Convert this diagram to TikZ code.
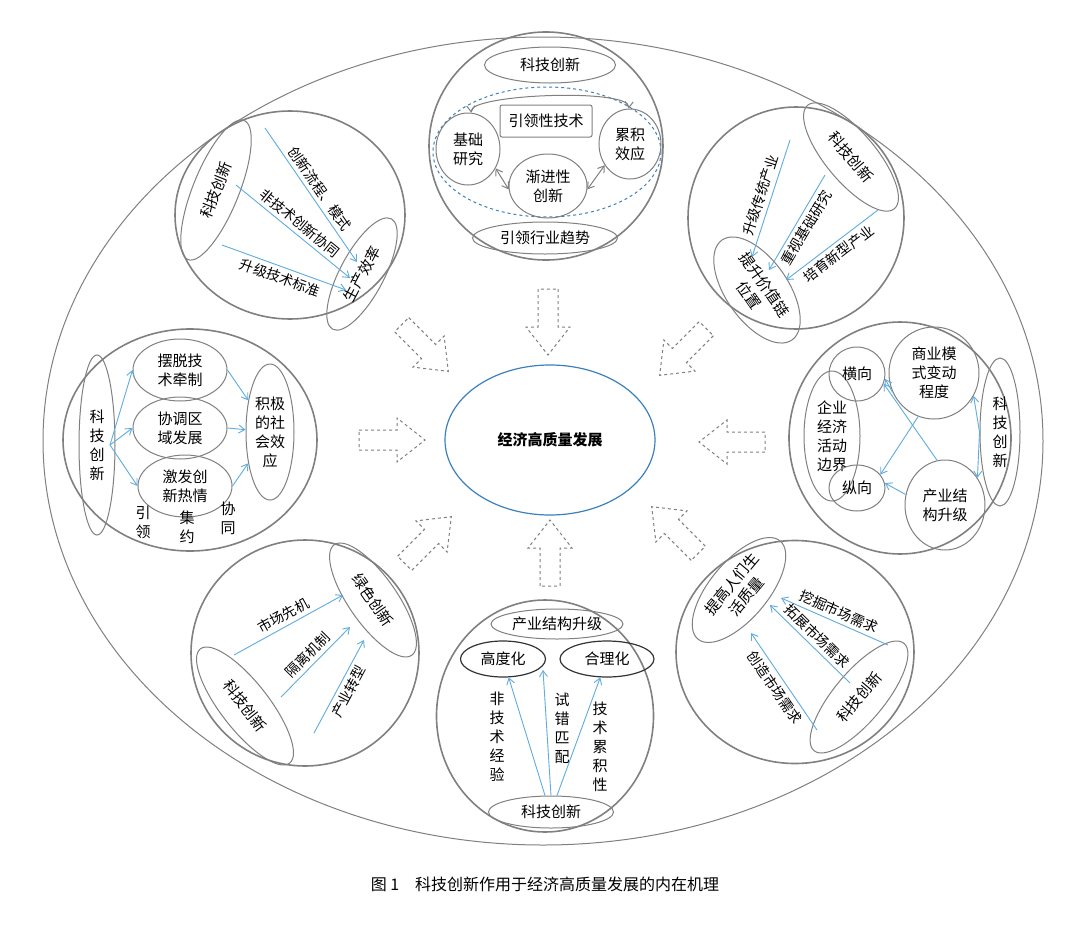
\documentclass[tikz,border=0pt]{standalone}
\usepackage{fontspec}
\setmainfont{Noto Sans CJK SC}
\usetikzlibrary{shapes.geometric,arrows.meta}
\definecolor{lgray}{RGB}{128,128,128}
\definecolor{ablue}{RGB}{95,172,222}
\definecolor{cblue}{RGB}{60,128,188}
\tikzset{
  ring/.style={draw=lgray, line width=1.6pt, ellipse, inner sep=0pt},
  ell/.style={draw=lgray, line width=1pt, ellipse, inner sep=0pt, align=center},
  barr/.style={draw=ablue, line width=0.9pt, -{Straight Barb[length=6pt,width=8pt]}},
  garr/.style={draw=lgray, line width=1pt, {Straight Barb[length=6pt,width=8pt]}-{Straight Barb[length=6pt,width=8pt]}},
  fatarrow/.pic={\draw[lgray, dashed, line width=1pt] (-33,-10) -- (5,-10) -- (5,-22) -- (33,0) -- (5,22) -- (5,10) -- (-33,10) -- cycle;},
  lab/.style={inner sep=1pt, align=center},
  slab/.style={inner sep=4pt, sloped, font=\fontsize{14}{17}\selectfont}
}
\begin{document}
\begin{tikzpicture}[x=1pt, y=-1pt, font=\fontsize{15}{19}\selectfont]
\useasboundingbox[fill=white] (0,0) rectangle (1080,935);
% outer frame and center
\node[draw=lgray, line width=1pt, ellipse, minimum width=1000pt, minimum height=808pt] (O) at (543,441) {};
\node[draw=cblue, line width=1.2pt, ellipse, minimum width=210pt, minimum height=150pt, font=\fontsize{15}{19}\selectfont\bfseries] (C) at (550,440) {经济高质量发展};
\foreach \x/\y/\r [count=\i] in {548/322/-90, 425/348/-45, 392/440/0, 428/540/45, 550/553/90, 675/530/135, 732/442/180, 683/352/-135}
  \pic[rotate=\r] (fa\i) at (\x,\y) {fatarrow};

% top
\node[ring, minimum width=234pt, minimum height=228pt] (T) at (546,146) {};
\node[ell, minimum width=131pt, minimum height=36pt] (Tsci) at (550,65) {科技创新};
\node[draw=cblue, dashed, line width=1pt, ellipse, minimum width=228pt, minimum height=130pt] (Tloop) at (547,152) {};
\node[draw=lgray, rounded corners=2pt, line width=1pt, minimum width=92pt, minimum height=32pt] (Tlead) at (546,121) {引领性技术};
\node[ell, minimum width=64pt, minimum height=72pt] (Tbase) at (468,149) {基础\\研究};
\node[ell, minimum width=62pt, minimum height=70pt] (Tacc) at (630,144) {累积\\效应};
\node[ell, minimum width=78pt, minimum height=64pt] (Tinc) at (548,186) {渐进性\\创新};
\node[ell, minimum width=145pt, minimum height=32pt] (Ttrend) at (545,238) {引领行业趋势};
\draw[garr] (Tbase.85) .. controls (470,94) and (630,88) .. (Tacc.92);
\draw[garr] (Tbase.-35) -- (Tinc.185);
\draw[garr] (Tinc.-5) -- (Tacc.-140);

% top left
\node[ring, minimum width=230pt, minimum height=208pt] (TL) at (290,215) {};
\node[ell, rotate=68, minimum width=150pt, minimum height=46pt] (TLsci) at (216,190) {科技创新};
\node[ell, rotate=62, minimum width=125pt, minimum height=44pt] (TLeff) at (362,274) {生产效率};
\coordinate (TLa) at (265,128);
\coordinate (TLb) at (236,185);
\coordinate (TLc) at (222,245);
\coordinate (TLx) at (357,262);
\coordinate (TLy) at (350,278);
\coordinate (TLz) at (346,290);
\draw[barr] (TLa) -- node[slab, above] {创新流程、模式} (TLx);
\draw[barr] (TLb) -- node[slab, above] {非技术创新协同} (TLy);
\draw[barr] (TLc) -- node[slab, below] {升级技术标准} (TLz);

% top right
\node[ring, minimum width=216pt, minimum height=222pt] (TR) at (796,218) {};
\node[ell, rotate=-50, minimum width=135pt, minimum height=50pt] (TRsci) at (851,157) {科技创新};
\node[ell, rotate=-55, minimum width=122pt, minimum height=62pt] (TRval) at (757,290) {提升价值链\\位置};
\coordinate (TRa) at (790,140);
\coordinate (TRb) at (825,175);
\coordinate (TRc) at (878,210);
\coordinate (TRx) at (752,257);
\coordinate (TRy) at (769,270);
\coordinate (TRz) at (786,280);
\draw[barr] (TRa) -- node[slab, above] {升级传统产业} (TRx);
\draw[barr] (TRb) -- node[slab, below] {重视基础研究} (TRy);
\draw[barr] (TRc) -- node[slab, below] {培育新型产业} (TRz);

% left
\node[ring, minimum width=254pt, minimum height=222pt] (L) at (190,440) {};
\node[ell, minimum width=36pt, minimum height=180pt] (Lsci) at (97,445) {科\\技\\创\\新};
\node[ell, minimum width=94pt, minimum height=62pt] (L1) at (180,370) {摆脱技\\术牵制};
\node[ell, minimum width=94pt, minimum height=62pt] (L2) at (180,428) {协调区\\域发展};
\node[ell, minimum width=94pt, minimum height=62pt] (L3) at (185,486) {激发创\\新热情};
\node[ell, minimum width=48pt, minimum height=136pt] (Lpos) at (270,432) {积极\\的社\\会效\\应};
\coordinate (Ls) at (110,445);
\foreach \n in {L1,L2,L3} {
  \draw[barr] (Ls) -- (\n.west);
  \draw[barr] (\n.east) -- (Lpos);
}
\node[lab] (Lg1) at (143,522) {引\\领};
\node[lab] (Lg2) at (187,527) {集\\约};
\node[lab] (Lg3) at (228,518) {协\\同};

% right
\node[ring, minimum width=222pt, minimum height=232pt] (R) at (900,438) {};
\node[ell, minimum width=56pt, minimum height=130pt] (Rbd) at (832,436) {企业\\经济\\活动\\边界};
\node[ell, minimum width=56pt, minimum height=54pt] (Rh) at (857,374) {横向};
\node[ell, minimum width=90pt, minimum height=92pt] (Rb) at (934,373) {商业模\\式变动\\程度};
\node[ell, minimum width=56pt, minimum height=46pt] (Rv) at (857,488) {纵向};
\node[ell, minimum width=80pt, minimum height=90pt] (Ri) at (945,505) {产业结\\构升级};
\node[ell, minimum width=40pt, minimum height=148pt] (Rsci) at (1000,432) {科\\技\\创\\新};
\draw[barr] (Rb.250) -- (Rv.30);
\draw[barr] (Ri.100) -- (Rh.-20);
\draw[barr] (Rb.205) -- (Rh.-10);
\draw[barr] (Ri.165) -- (Rv.10);
\draw[barr] (Rsci.west) -- (Rb.-30);
\draw[barr] (Rsci.west) -- (Ri.40);

% bottom left
\node[ring, minimum width=228pt, minimum height=226pt] (BL) at (305,653) {};
\node[ell, rotate=-55, minimum width=135pt, minimum height=48pt] (BLg) at (373,600) {绿色创新};
\node[ell, rotate=-52, minimum width=145pt, minimum height=48pt] (BLsci) at (245,706) {科技创新};
\coordinate (BLa) at (234,655);
\coordinate (BLb) at (281,697);
\coordinate (BLc) at (314,733);
\coordinate (BLx) at (343,595);
\coordinate (BLy) at (350,627);
\coordinate (BLz) at (364,640);
\draw[barr] (BLa) -- node[slab, above] {市场先机} (BLx);
\draw[barr] (BLb) -- node[slab, above] {隔离机制} (BLy);
\draw[barr] (BLc) -- node[slab, below] {产业转型} (BLz);

% bottom
\node[ring, minimum width=217pt, minimum height=232pt] (B) at (545,716) {};
\node[ell, minimum width=132pt, minimum height=30pt] (Bup) at (557,624) {产业结构升级};
\node[draw=black!80, line width=1.2pt, ellipse, minimum width=85pt, minimum height=36pt] (Bh) at (503,659) {高度化};
\node[draw=black!80, line width=1.2pt, ellipse, minimum width=94pt, minimum height=36pt] (Br) at (607,659) {合理化};
\node[ell, minimum width=125pt, minimum height=32pt] (Bsci) at (551,812) {科技创新};
\coordinate (Bm) at (543,670);
\draw[barr] (Bsci.110) -- (Bh);
\draw[barr] (Bsci.north) -- (Bm);
\draw[barr] (Bsci.70) -- (Br);
\node[lab] (Bl1) at (497,737) {非\\技\\术\\经\\验};
\node[lab] (Bl2) at (562,728) {试\\错\\匹\\配};
\node[lab] (Bl3) at (600,747) {技\\术\\累\\积\\性};

% bottom right
\node[ring, minimum width=238pt, minimum height=223pt] (BR) at (795,652) {};
\node[ell, rotate=50, minimum width=128pt, minimum height=58pt] (BRq) at (739,590) {提高人们生\\活质量};
\node[ell, rotate=50, minimum width=140pt, minimum height=50pt] (BRsci) at (859,697) {科技创新};
\coordinate (BRa) at (888,645);
\coordinate (BRb) at (850,683);
\coordinate (BRc) at (817,730);
\coordinate (BRx) at (781,598);
\coordinate (BRy) at (770,605);
\coordinate (BRz) at (751,633);
\draw[barr] (BRa) -- node[slab, above] {挖掘市场需求} (BRx);
\draw[barr] (BRb) -- node[slab, above] {拓展市场需求} (BRy);
\draw[barr] (BRc) -- node[slab, below] {创造市场需求} (BRz);

% caption
\node[font=\fontsize{16}{20}\selectfont] (cap) at (545,884) {图 1\quad 科技创新作用于经济高质量发展的内在机理};
\end{tikzpicture}
\end{document}
